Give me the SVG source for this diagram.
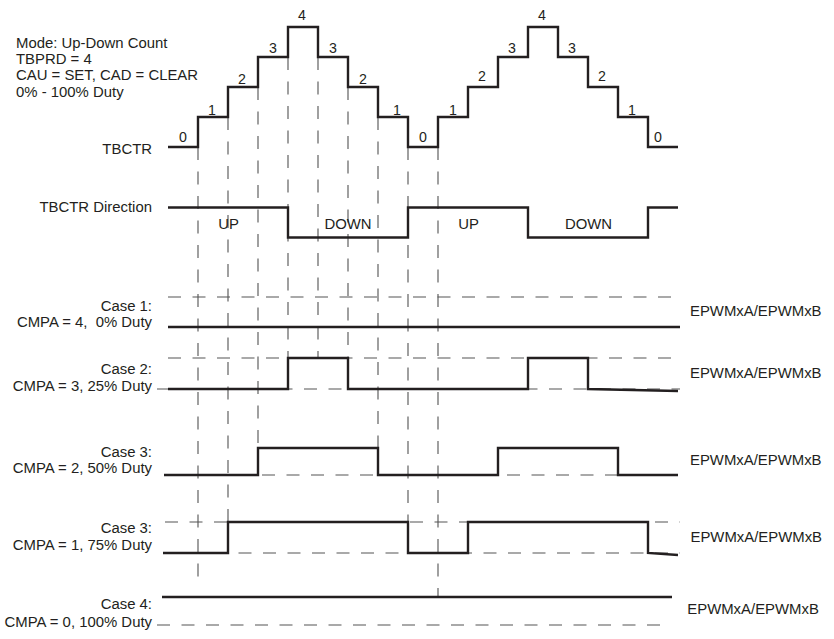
<svg xmlns="http://www.w3.org/2000/svg" width="834" height="639" viewBox="0 0 834 639">
<style>
text{font-family:"Liberation Sans",Arial,sans-serif;fill:#231f20;font-size:14.9px}
.r{text-anchor:end}
.m{text-anchor:middle}
.d{font-size:14.2px;text-anchor:middle}
.w{fill:none;stroke:#231f20;stroke-width:2.4;stroke-linejoin:miter}
.v{fill:none;stroke:#6d6d6d;stroke-width:1.3;stroke-dasharray:13 11.5}
.h{fill:none;stroke:#555;stroke-width:1.2;stroke-dasharray:13 11.5}
.e{font-size:14.9px}
</style>
<rect width="834" height="639" fill="#fff"/>
<g id="info">
<text x="16" y="47.7">Mode: Up-Down Count</text>
<text x="16" y="64">TBPRD = 4</text>
<text x="16" y="80.3">CAU = SET, CAD = CLEAR</text>
<text x="16" y="96.7">0% - 100% Duty</text>
</g>
<g id="guides">
<path class="v" d="M198,147V588M228,117V522M258,87V448M288,57V358M318,57V358M348,87V358M378,117V448M408,147V522M438,147V597"/>
<path class="h" d="M168,297H680M168,358H680M157,389H680M164,475H678M165,522H680M165,553H680M157,625H668"/>
</g>
<g id="tbctr">
<text class="r" x="152" y="154">TBCTR</text>
<path class="w" d="M168,147H198V117H228V87H258V57H288V27H318V57H348V87H378V117H408V147H438V117H468V87H498V57H528V27H558V57H588V87H618V117H648V147H678"/>
<text class="d" x="183" y="142">0</text>
<text class="d" x="212" y="115">1</text>
<text class="d" x="242" y="84">2</text>
<text class="d" x="273" y="53">3</text>
<text class="d" x="302" y="19.5">4</text>
<text class="d" x="333" y="53">3</text>
<text class="d" x="363" y="84">2</text>
<text class="d" x="397" y="115">1</text>
<text class="d" x="423" y="142">0</text>
<text class="d" x="453" y="115">1</text>
<text class="d" x="482" y="81">2</text>
<text class="d" x="512" y="53">3</text>
<text class="d" x="542" y="19.5">4</text>
<text class="d" x="572" y="53">3</text>
<text class="d" x="602" y="81">2</text>
<text class="d" x="632" y="115">1</text>
<text class="d" x="658" y="142">0</text>
</g>
<g id="direction">
<text class="r" x="152" y="212">TBCTR Direction</text>
<path class="w" d="M168,207.5H288V237.5H408V207.5H528V237.5H648V207.5H678"/>
<text class="m" x="228.5" y="229.3">UP</text>
<text class="m" x="348" y="229.3">DOWN</text>
<text class="m" x="468.5" y="229.3">UP</text>
<text class="m" x="588.5" y="229.3">DOWN</text>
</g>
<g id="case1">
<text class="r" x="152" y="310.7">Case 1:</text>
<text class="r" x="152" y="326.7">CMPA = 4,&#160; 0% Duty</text>
<path class="w" d="M168,327H680"/>
<text class="e" x="690" y="316">EPWMxA/EPWMxB</text>
</g>
<g id="case2">
<text class="r" x="152" y="374">Case 2:</text>
<text class="r" x="152" y="390.7">CMPA = 3, 25% Duty</text>
<path class="w" d="M168,389H288V358H348V389H528V358H588V389L678,391"/>
<text class="e" x="690" y="378.3">EPWMxA/EPWMxB</text>
</g>
<g id="case3a">
<text class="r" x="152" y="456.7">Case 3:</text>
<text class="r" x="152" y="473.3">CMPA = 2, 50% Duty</text>
<path class="w" d="M164,475H258V448H378V475H498V448H618V475H678"/>
<text class="e" x="690" y="465">EPWMxA/EPWMxB</text>
</g>
<g id="case3b">
<text class="r" x="152" y="533.3">Case 3:</text>
<text class="r" x="152" y="550">CMPA = 1, 75% Duty</text>
<path class="w" d="M163,553H228V522H408V553H468V522H648V553L678,555"/>
<text class="e" x="690.5" y="541.7">EPWMxA/EPWMxB</text>
</g>
<g id="case4">
<text class="r" x="152" y="609.3">Case 4:</text>
<text class="r" x="152" y="626.7">CMPA = 0, 100% Duty</text>
<path class="w" d="M162,597H672"/>
<text class="e" x="687.3" y="614.3">EPWMxA/EPWMxB</text>
</g>
</svg>
